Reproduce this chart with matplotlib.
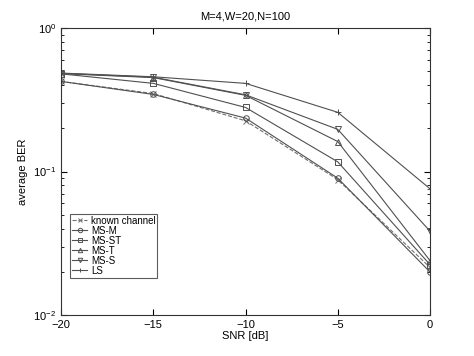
import numpy as np
import matplotlib
matplotlib.use("Agg")
import matplotlib.pyplot as plt

plt.rcParams['font.family'] = ['Liberation Sans', 'DejaVu Sans']

snr = [-20, -15, -10, -5, 0]
known = [0.425, 0.350, 0.226, 0.088, 0.0215]
ms_m = [0.425, 0.345, 0.236, 0.090, 0.0200]
ms_st = [0.480, 0.412, 0.280, 0.117, 0.0225]
ms_t = [0.482, 0.452, 0.340, 0.162, 0.0240]
ms_s = [0.484, 0.455, 0.343, 0.197, 0.0385]
ls = [0.486, 0.458, 0.412, 0.259, 0.0760]

fig = plt.figure(figsize=(4.74, 3.56), dpi=100)
ax = fig.add_axes([0.129, 0.115, 0.778, 0.806])

c = '#505050'
kw = dict(color=c, lw=0.8, ms=4, mfc='none', mew=0.7)
ax.plot(snr, known, '--x', label='known channel', color='#707070', lw=0.8, ms=4, mew=0.7)
ax.plot(snr, ms_m, '-o', label='MS-M', **kw)
ax.plot(snr, ms_st, '-s', label='MS-ST', **kw)
ax.plot(snr, ms_t, '-^', label='MS-T', **kw)
ax.plot(snr, ms_s, '-v', label='MS-S', **kw)
ax.plot(snr, ls, '-+', label='LS', **kw)

ax.set_yscale('log')
ax.set_xlim(-20, 0)
ax.set_ylim(1e-2, 1)
ax.set_xticks(snr)
ax.tick_params(which='both', direction='in', top=True, right=True, labelsize=8)
ax.tick_params(which='major', length=4)
ax.tick_params(which='minor', length=2)
for s in ax.spines.values():
    s.set_linewidth(0.8)
    s.set_color('#333333')

ax.set_title('M=4,W=20,N=100', fontsize=8)
ax.set_xlabel('SNR [dB]', fontsize=8, labelpad=1)
ax.set_ylabel('average BER', fontsize=8)

leg = ax.legend(loc='lower left', bbox_to_anchor=(0.025, 0.13), fontsize=7, frameon=True,
                fancybox=False, edgecolor='#333333', handlelength=1.5, borderpad=0.2,
                labelspacing=0.0, handletextpad=0.4, borderaxespad=0, markerscale=0.8)
leg.get_frame().set_linewidth(0.8)

fig.savefig('out.png', dpi=100)
